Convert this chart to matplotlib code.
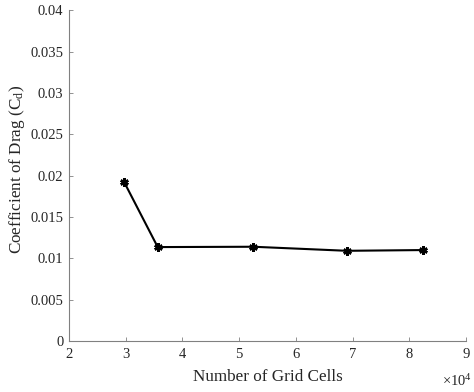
import numpy as np
import matplotlib
matplotlib.use('Agg')
import matplotlib.pyplot as plt
from matplotlib.ticker import FuncFormatter

# grid independence study
grid_cells = [29700, 35640, 52500, 69000, 82400]
drag_coef = [0.01925, 0.01136, 0.0114, 0.01091, 0.0110]

plt.rcParams['font.family'] = ['Liberation Serif', 'DejaVu Serif']
plt.rcParams['mathtext.fontset'] = 'custom'
plt.rcParams['mathtext.rm'] = 'Liberation Serif'
plt.rcParams['mathtext.it'] = 'Liberation Serif'

fig = plt.figure(figsize=(4.74, 3.92), dpi=100)
ax = fig.add_axes([0.1456, 0.130, 0.8376, 0.844])

x = np.array(grid_cells) / 1e4
ax.plot(x, drag_coef, color='black', linewidth=1.5, marker=(6, 2, 0),
        markersize=6, markeredgewidth=1.8, markeredgecolor='black')

ax.set_xlim(2, 9)
ax.set_ylim(0, 0.04)
ax.set_xticks(np.arange(2, 10, 1))
ax.set_yticks(np.arange(0, 0.0401, 0.005))
ax.yaxis.set_major_formatter(FuncFormatter(lambda v, p: '%g' % round(v, 4)))

for s in ['top', 'right']:
    ax.spines[s].set_visible(False)
for s in ['left', 'bottom']:
    ax.spines[s].set_color('#808080')
    ax.spines[s].set_linewidth(0.8)
ax.tick_params(direction='in', length=3, width=0.6, color='#808080',
               labelsize=10.5, labelcolor='#262626')
ax.tick_params(axis='x', pad=5)
ax.tick_params(axis='y', pad=4)

ax.set_xlabel('Number of Grid Cells', fontsize=12.3, color='#262626')
ax.set_ylabel('Coefficient of Drag (C$_{\\mathrm{d}}$)', fontsize=12.3, color='#262626')
ax.xaxis.set_label_coords(0.5, -0.085)
ax.yaxis.set_label_coords(-0.105, 0.52)
fig.text(0.996, 0.028, '$\\times$10$^{4}$', ha='right', va='center',
         fontsize=10.5, color='#262626')

fig.savefig('out.png', dpi=100)
